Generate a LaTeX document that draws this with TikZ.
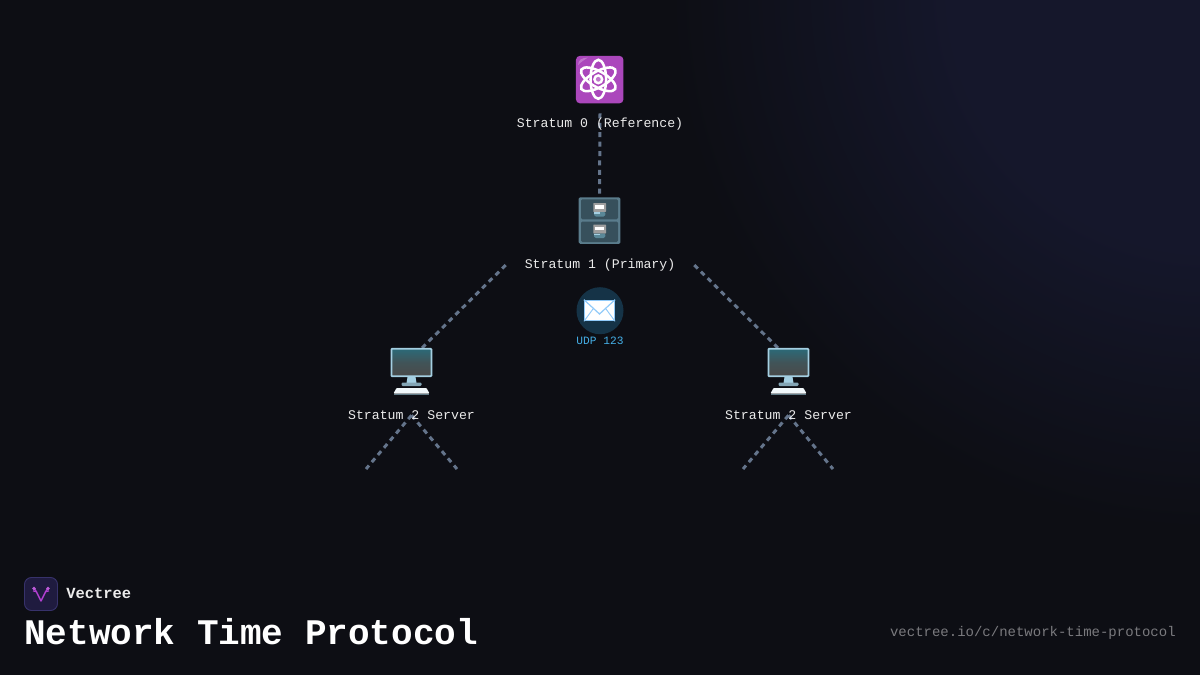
\documentclass[tikz,border=0pt]{standalone}
\usepackage{fontspec}
\setmainfont{Liberation Mono}
\pgfdeclarelayer{base}
\pgfdeclarelayer{links}
\pgfsetlayers{base,links,main}
\definecolor{bgc}{HTML}{0D0E14}
\definecolor{glow}{HTML}{15172B}
\definecolor{linkc}{HTML}{64748B}
\definecolor{atomc}{HTML}{AB47BC}
\definecolor{cabo}{HTML}{5A7C8C}
\definecolor{cabi}{HTML}{37505C}
\definecolor{monb}{HTML}{A4CFE2}
\definecolor{scrt}{HTML}{2C6A78}
\definecolor{scrb}{HTML}{4A4A4A}
\definecolor{trayc}{HTML}{5A8898}
\definecolor{msgc}{HTML}{153347}
\definecolor{envc}{HTML}{90CAF9}
\definecolor{udpc}{HTML}{45B0E8}
\definecolor{logof}{HTML}{1F1B3F}
\definecolor{logob}{HTML}{37326B}
\definecolor{logog}{HTML}{B03FD0}
\pgfdeclareradialshading{glowshade}{\pgfpointorigin}{color(0bp)=(glow); color(12bp)=(glow); color(25bp)=(bgc); color(50bp)=(bgc)}
\def\px{0.75pt}
\tikzset{
  x=0.75pt,y=-0.75pt,
  link/.style={draw=linkc,line width=2.25pt,dash pattern=on 3.75pt off 3.3pt},
  lbl/.style={text=white!92!black,font=\fontsize{9.9pt}{12pt}\selectfont,inner sep=0pt,minimum height=21*\px,align=center},
  orbit/.style={draw=white,line width=1.9pt},
}
\newcommand{\monitoricon}[2]{%
  \begin{scope}[shift={(#2,0)}]
    \node[draw=monb,line width=1.3pt,top color=scrt,bottom color=scrb,middle color=scrb!70!scrt,rounded corners=0.6pt,minimum width=40*\px,minimum height=27.5*\px,inner sep=0pt] (#1) at (-0.1,362.5) {};
    \fill[monb] (-4,377) -- (4,377) -- (5,383) -- (-5,383) -- cycle;
    \fill[monb!80!black,rounded corners=0.8pt] (-10,382.5) rectangle (10,386);
    \fill[white!85!monb,rounded corners=0.6pt] (-15,388) -- (15,388) -- (18,393.5) -- (-18,393.5) -- cycle;
    \draw[monb!60!black,line width=0.8pt] (-17.5,394.3) -- (17.5,394.3);
  \end{scope}}
\newcommand{\draweritem}[1]{%
  \fill[white!62!black,rounded corners=0.5pt] (593.3,#1) rectangle (606,#1+9);
  \fill[white] (595.3,#1+2) rectangle (604,#1+5.8);
  \fill[trayc,rounded corners=1pt] (593.6,#1+9) -- (605.6,#1+9) -- (605,#1+13.5) -- (594.5,#1+13.5) -- cycle;
  \fill[monb] (594,#1+9.2) rectangle (600,#1+10.6);}
\begin{document}
\begin{tikzpicture}
\useasboundingbox (0,0) rectangle (1200,675);
\begin{pgfonlayer}{base}
  \fill[bgc] (0,0) rectangle (1200,675);
  \begin{scope}
    \clip (0,0) rectangle (1200,675);
    \shade[shading=glowshade,draw=none] (1210,-10) circle (540);
  \end{scope}
\end{pgfonlayer}

% stratum 0
\node[fill=atomc,rounded corners=4*\px,minimum size=47.5*\px,inner sep=0pt] (n0) at (599.7,79.6) {};
\fill[white,opacity=.25] (578,65) .. controls (578.5,60) and (581,58) .. (588,57.5) .. controls (584,60) and (581,62) .. (578,65) -- cycle;
\begin{scope}[shift={(598.3,79.3)}]
  \draw[orbit] (0,0) ellipse [x radius=7.8,y radius=19.5];
  \draw[orbit,rotate=60] (0,0) ellipse [x radius=7.8,y radius=19.5];
  \draw[orbit,rotate=-60] (0,0) ellipse [x radius=7.8,y radius=19.5];
  \fill[white] (0,0) circle (5.2);
  \fill[atomc!75!white] (0,0) circle (2.4);
\end{scope}
\node[lbl] (l0) at (600,124.2) {Stratum 0 (Reference)};

% stratum 1
\node[fill=cabo,rounded corners=1.5*\px,minimum width=41.6*\px,minimum height=46.7*\px,inner sep=0pt] (n1) at (599.5,220.6) {};
\fill[cabi,rounded corners=1pt] (581,199.3) rectangle (618,219.3);
\fill[cabi,rounded corners=1pt] (581,221.5) rectangle (618,242);
\draweritem{203}
\draweritem{224.5}
\node[lbl,minimum width=188*\px] (l1) at (600,265) {Stratum 1 (Primary)};

% message
\node[circle,fill=msgc,minimum size=47*\px,inner sep=0pt] (msg) at (600,310.7) {};
\node[draw=envc,line width=0.9pt,fill=white,minimum width=30*\px,minimum height=20.5*\px,inner sep=0pt] (env) at (599.5,310.5) {};
\draw[envc,line width=0.9pt] (env.north west) -- (599.5,314) -- (env.north east);
\draw[envc,line width=0.7pt] (env.south west) -- (593,309);
\draw[envc,line width=0.7pt] (env.south east) -- (606,309);
\node[text=udpc,font=\fontsize{8.4pt}{10pt}\selectfont,inner sep=0pt] (udp) at (600,340.6) {UDP 123};

% stratum 2
\monitoricon{n2a}{411.5}
\monitoricon{n2b}{788.5}
\node[lbl] (l2a) at (411.5,415.3) {Stratum 2 Server};
\node[lbl] (l2b) at (788.5,415.3) {Stratum 2 Server};

\coordinate (ta) at (422,348);
\coordinate (tb) at (778,348);
\coordinate (c1) at (366,469);
\coordinate (c2) at (457,469);
\coordinate (c3) at (743,469);
\coordinate (c4) at (833,469);
\begin{pgfonlayer}{links}
  \draw[link] (l0.north) -- (n1.north);
  \draw[link] (l1.west) -- (ta);
  \draw[link] (l1.east) -- (tb);
  \draw[link] (l2a.center) -- (c1);
  \draw[link] (l2a.center) -- (c2);
  \draw[link] (l2b.center) -- (c3);
  \draw[link] (l2b.center) -- (c4);
\end{pgfonlayer}

% footer
\node[fill=logof,draw=logob,line width=0.7pt,rounded corners=7*\px,minimum size=33*\px,inner sep=0pt] (logo) at (41,594) {};
\begin{scope}[shift={(41,594)}]
  \draw[logog,line width=1.1pt,line join=round] (-7,-6) -- (-4,-1) -- (0,7) -- (4,-1) -- (7,-6);
  \draw[logog,line width=0.9pt] (-4,-2.5) -- (-8,-3) (4,-2.5) -- (8,-3);
  \fill[logog!85!white] (-7,-5.5) circle (1.9) (7,-5.5) circle (1.9);
\end{scope}
\node[anchor=west,text=white!92!black,font=\fontsize{11.6pt}{14pt}\selectfont\bfseries,inner sep=0pt] (brand) at (66,593) {Vectree};
\node[anchor=west,text=white,font=\fontsize{27pt}{32pt}\selectfont\bfseries,inner sep=0pt] (title) at (24,631.3) {Network Time Protocol};
\node[anchor=east,text=white!45!bgc,font=\fontsize{10.5pt}{13pt}\selectfont,inner sep=0pt] (url) at (1176,633.3) {vectree.io/c/network-time-protocol};
\end{tikzpicture}
\end{document}
